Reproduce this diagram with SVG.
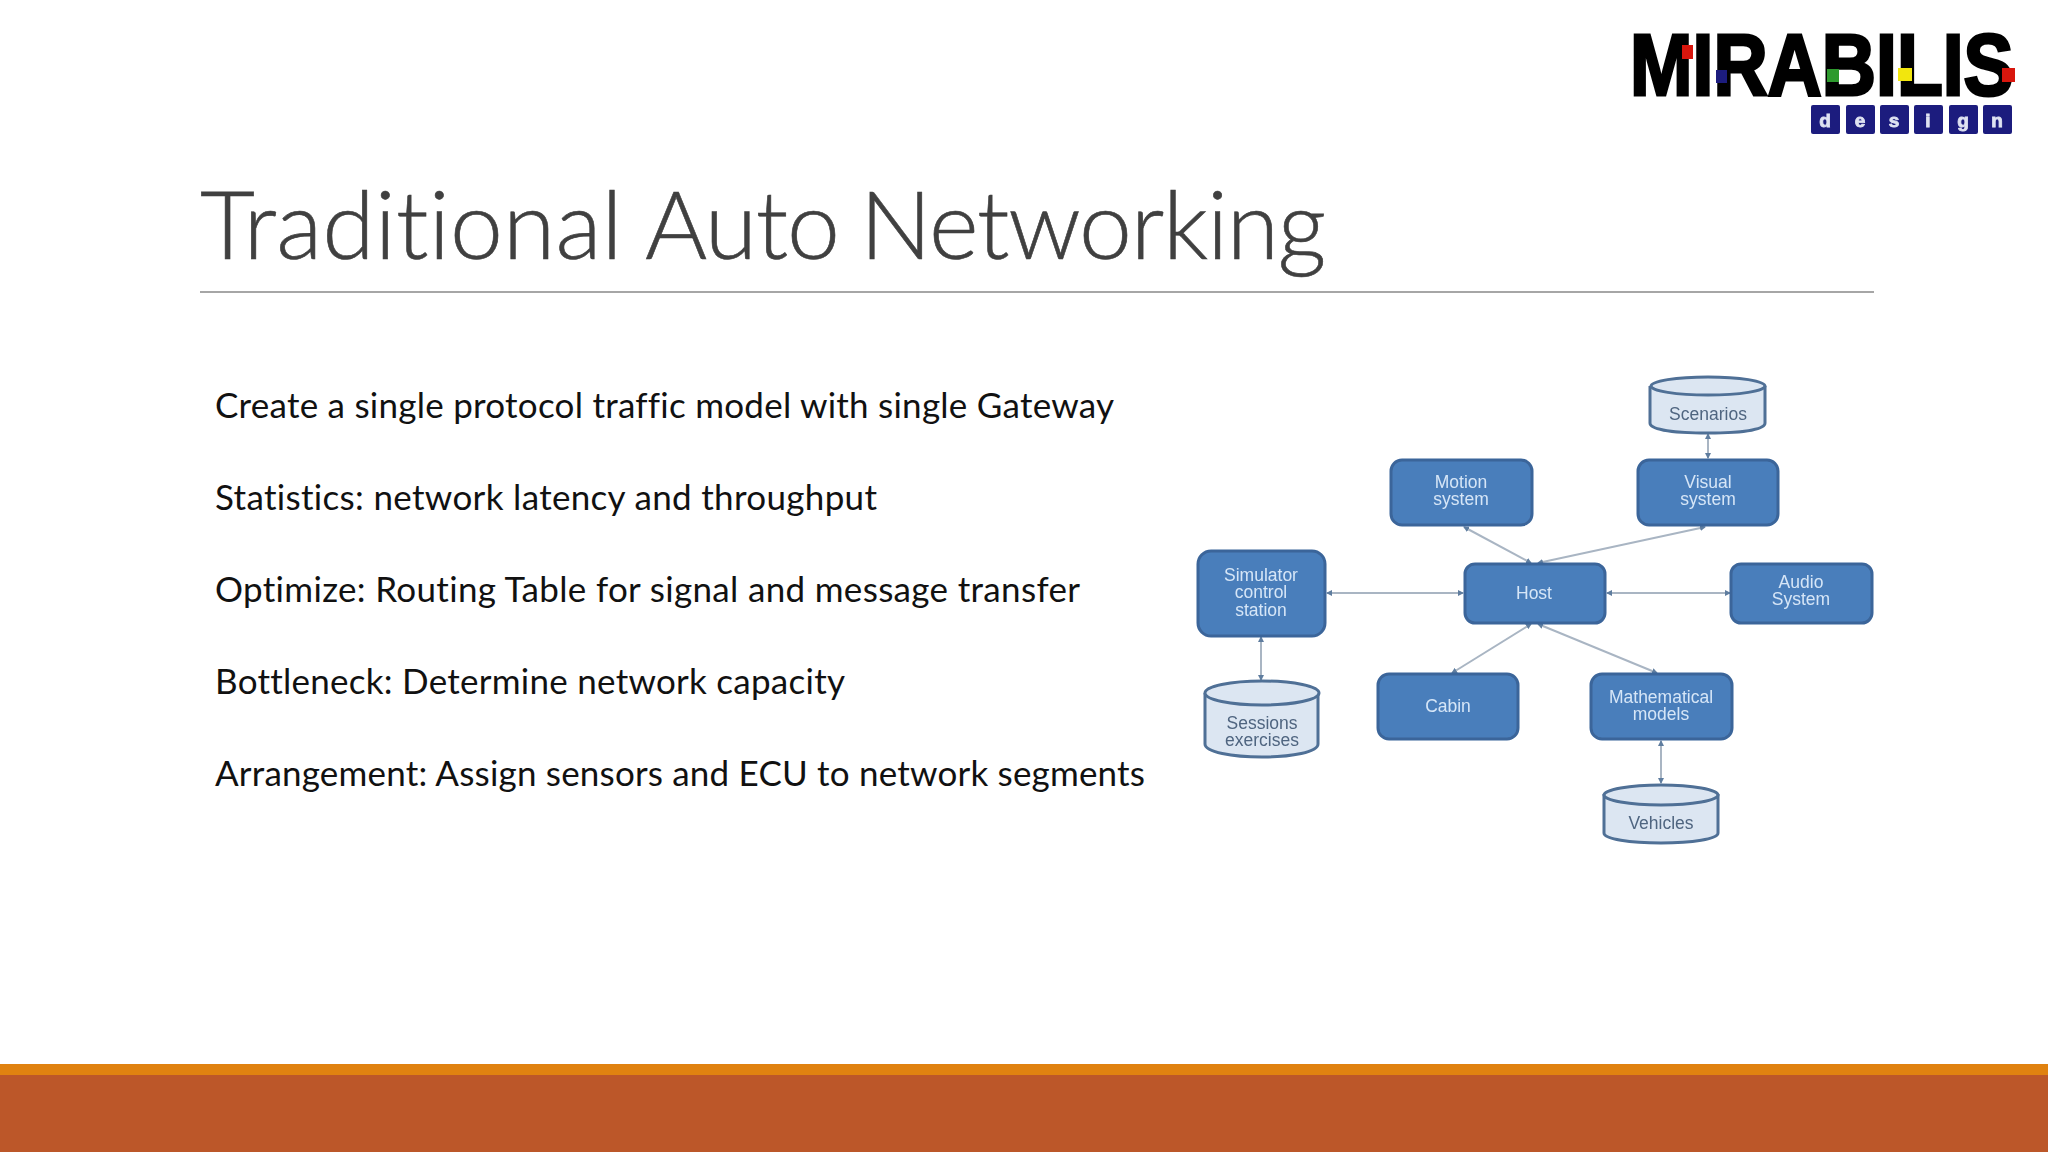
<svg xmlns="http://www.w3.org/2000/svg" width="2048" height="1152" viewBox="0 0 2048 1152">
<style>
text{font-variant-ligatures:none}
.body{font-family:"Lato","Noto Sans",sans-serif;font-size:35px;fill:#111}
.box{fill:#4a7ebb;stroke:#3b659a;stroke-width:3}
.boxt{font-family:"Liberation Sans",Arial,sans-serif;font-size:17.5px;fill:#d6e6f7;text-anchor:middle}
.cylb{fill:#dce6f2;stroke:#4f6f96;stroke-width:3}
.cylt{font-family:"Liberation Sans",Arial,sans-serif;font-size:17.5px;fill:#4f6580;text-anchor:middle}
.conn line{stroke:#a9b5c3;stroke-width:2;marker-start:url(#a);marker-end:url(#a)}
.lg{font-family:"Liberation Sans",Arial,sans-serif;font-weight:700;font-size:19px;fill:#dfe3f2;stroke:#dfe3f2;stroke-width:.8;text-anchor:middle}
.sq{fill:#1d1d7e}
.soft{filter:url(#soft)}
</style>
<defs>
<marker id="a" viewBox="0 0 6 6" refX="5" refY="3" markerWidth="3" markerHeight="3" orient="auto-start-reverse"><path d="M0 0L6 3L0 6z" fill="#5f7d9f"/></marker>
<filter id="soft" x="-5%" y="-5%" width="110%" height="110%"><feGaussianBlur stdDeviation="0.6"/></filter>
</defs>
<rect width="2048" height="1152" fill="#fff"/>
<rect y="1064" width="2048" height="12" fill="#e08210"/>
<rect y="1075" width="2048" height="77" fill="#bc5729"/>
<text y="259" font-family="Lato,'Open Sans',sans-serif" font-weight="300" font-size="95" fill="#404040" stroke="#404040" stroke-width=".6"><tspan x="200" letter-spacing=".1">Traditional</tspan> <tspan x="645" letter-spacing="-1.2">Auto</tspan> <tspan x="860" letter-spacing="-1.3">Networking</tspan></text>
<line x1="200" y1="292" x2="1874" y2="292" stroke="#a6a6a6" stroke-width="2"/>
<text class="body" x="215" y="417.5" textLength="899" lengthAdjust="spacing">Create a single protocol traffic model with single Gateway</text>
<text class="body" x="215" y="510" textLength="662" lengthAdjust="spacing">Statistics: network latency and throughput</text>
<text class="body" x="215" y="602" textLength="865" lengthAdjust="spacing">Optimize: Routing Table for signal and message transfer</text>
<text class="body" x="215" y="694" textLength="630" lengthAdjust="spacing">Bottleneck: Determine network capacity</text>
<text class="body" x="215" y="786" textLength="930" lengthAdjust="spacing">Arrangement: Assign sensors and ECU to network segments</text>
<g id="logo" class="soft">
<text transform="translate(1630 95) scale(.863 1)" font-family="'Liberation Sans',Arial,sans-serif" font-weight="700" font-size="87" fill="#000" stroke="#000" stroke-width="3">MIRABILIS</text>
<rect x="1682" y="45" width="11" height="14" fill="#d8140c"/><rect x="1716" y="70" width="11" height="13" fill="#1d1d7e"/><rect x="1827" y="69" width="12" height="13" fill="#2e9a2e"/><rect x="1898" y="68" width="14" height="13" fill="#f2e60f"/><rect x="2002" y="68" width="13" height="14" fill="#d8140c"/>
<rect class="sq" x="1811" y="105" width="29" height="29" rx="2"/><rect class="sq" x="1846" y="105" width="29" height="29" rx="2"/><rect class="sq" x="1880" y="105" width="29" height="29" rx="2"/><rect class="sq" x="1914" y="105" width="29" height="29" rx="2"/><rect class="sq" x="1949" y="105" width="29" height="29" rx="2"/><rect class="sq" x="1983" y="105" width="29" height="29" rx="2"/>
<text class="lg" x="1825" y="127">d</text><text class="lg" x="1860" y="127">e</text><text class="lg" x="1894" y="127">s</text><text class="lg" x="1928" y="127">i</text><text class="lg" x="1963" y="127">g</text><text class="lg" x="1997" y="127">n</text>
</g>
<g id="connectors" class="conn soft">
<line x1="1464" y1="527" x2="1531" y2="563"/>
<line x1="1705" y1="527" x2="1538" y2="563"/>
<line x1="1452" y1="673" x2="1531" y2="624"/>
<line x1="1657" y1="673" x2="1538" y2="624"/>
<line x1="1327" y1="593" x2="1463" y2="593"/>
<line x1="1607" y1="593" x2="1730" y2="593"/>
<line x1="1261" y1="637" x2="1261" y2="680"/>
<line x1="1661" y1="741" x2="1661" y2="783"/>
<line x1="1708" y1="434" x2="1708" y2="458"/>
</g>
<g id="scenarios" class="soft"><path class="cylb" d="M1650 386V423C1650 430 1676 433 1708 433S1765 430 1765 423V386"/><ellipse class="cylb" cx="1708" cy="386" rx="57" ry="9"/><text class="cylt" x="1708" y="420">Scenarios</text></g>
<g id="motion" class="soft"><rect class="box" x="1391" y="460" width="141" height="65" rx="11"/><text class="boxt" x="1461" y="488">Motion</text><text class="boxt" x="1461" y="505">system</text></g>
<g id="visual" class="soft"><rect class="box" x="1638" y="460" width="140" height="65" rx="11"/><text class="boxt" x="1708" y="488">Visual</text><text class="boxt" x="1708" y="505">system</text></g>
<g id="simulator" class="soft"><rect class="box" x="1198" y="551" width="127" height="85" rx="13"/><text class="boxt" x="1261" y="581">Simulator</text><text class="boxt" x="1261" y="598">control</text><text class="boxt" x="1261" y="616">station</text></g>
<g id="host" class="soft"><rect class="box" x="1465" y="564" width="140" height="59" rx="10"/><text class="boxt" x="1534" y="599">Host</text></g>
<g id="audio" class="soft"><rect class="box" x="1731" y="564" width="141" height="59" rx="10"/><text class="boxt" x="1801" y="588">Audio</text><text class="boxt" x="1801" y="605">System</text></g>
<g id="cabin" class="soft"><rect class="box" x="1378" y="674" width="140" height="65" rx="11"/><text class="boxt" x="1448" y="712">Cabin</text></g>
<g id="math" class="soft"><rect class="box" x="1591" y="674" width="141" height="65" rx="11"/><text class="boxt" x="1661" y="703">Mathematical</text><text class="boxt" x="1661" y="720">models</text></g>
<g id="sessions" class="soft"><path class="cylb" d="M1205 693V744C1205 752 1232 757 1262 757S1318 752 1318 744V693"/><ellipse class="cylb" cx="1262" cy="693" rx="57" ry="12"/><text class="cylt" x="1262" y="729">Sessions</text><text class="cylt" x="1262" y="746">exercises</text></g>
<g id="vehicles" class="soft"><path class="cylb" d="M1604 794V833C1604 839 1630 843 1661 843S1718 839 1718 833V794"/><ellipse class="cylb" cx="1661" cy="795" rx="57" ry="10"/><text class="cylt" x="1661" y="829">Vehicles</text></g>
</svg>
